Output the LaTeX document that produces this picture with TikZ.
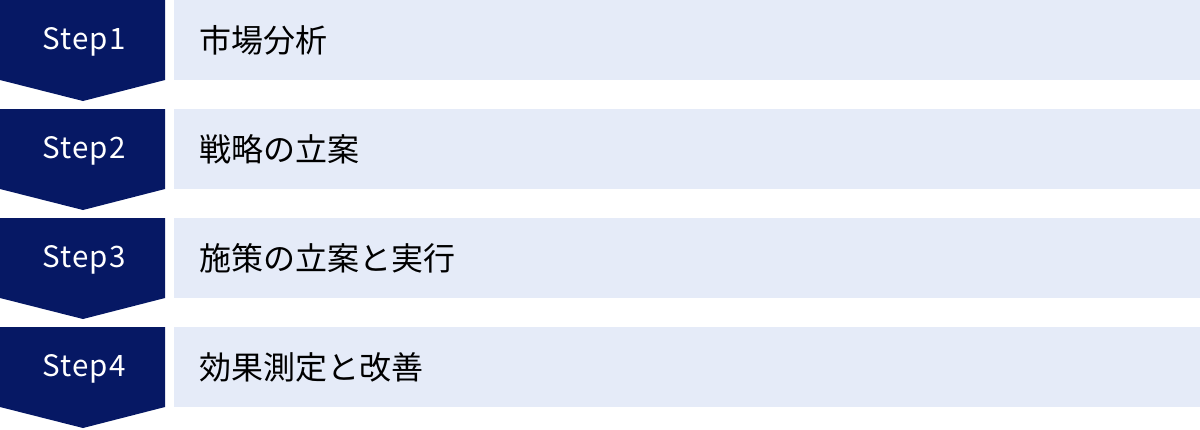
\documentclass[tikz,border=0pt]{standalone}
\usepackage{fontspec}
\setmainfont{Noto Sans CJK JP}
\newfontfamily\jpfont{Noto Sans CJK JP}
\definecolor{navy}{RGB}{6,24,100}
\definecolor{pale}{RGB}{229,235,248}
\begin{document}
\begin{tikzpicture}[x=1pt,y=-1pt,
  stepshape/.style={fill=navy,draw=none},
  barbox/.style={fill=pale,draw=none},
  steplabel/.style={text=white,font=\fontsize{29.5}{32}\selectfont\addfontfeatures{LetterSpace=4},anchor=center,inner sep=0pt},
  barlabel/.style={text=black,font=\jpfont\fontsize{32}{36}\selectfont,anchor=west,inner sep=0pt}]
\useasboundingbox (0,0) rectangle (1200,429);
\foreach \i/\lab/\txt in {0/1/市場分析,1/2/戦略の立案,2/3/施策の立案と実行,3/4/効果測定と改善}{
  \pgfmathsetmacro{\top}{\i*109}
  \fill[stepshape] (0,\top) -- (165,\top) -- (165,\top+80) -- (83,\top+101) -- (0,\top+80) -- cycle;
  \fill[barbox] (174,\top) rectangle (1200,\top+80);
  \node[steplabel] (s\lab) at (84,\top+42) {Step\lab};
  \node[barlabel] (t\lab) at (199,\top+40.5) {\txt};
}
\end{tikzpicture}
\end{document}
